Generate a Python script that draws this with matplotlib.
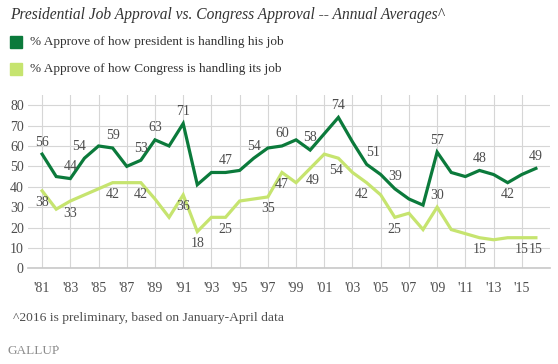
import numpy as np
import matplotlib
matplotlib.use("Agg")
import matplotlib.pyplot as plt
from matplotlib.patches import Rectangle

years = list(range(1981, 2017))
president = [56, 45, 44, 54, 60, 59, 50, 53, 63, 60, 71, 41, 47, 47, 48, 54, 59, 60,
             63, 58, 66, 74, 62, 51, 46, 39, 34, 31, 57, 47, 45, 48, 46, 42, 46, 49]
congress = [38, 29, 33, 36, 39, 42, 42, 42, 34, 25, 36, 18, 25, 25, 33, 34, 35, 47,
            42, 49, 56, 54, 47, 42, 36, 25, 27, 19, 30, 19, 17, 15, 14, 15, 15, 15]

# which points carry a value label: year -> (dx px, above?)
pres_labels = {1981: (0, True), 1983: (0, True), 1984: (-5, True), 1986: (0, True),
               1988: (0, True), 1989: (0, True), 1991: (0, True), 1994: (0, True),
               1996: (0, True), 1998: (0, True), 2000: (0, True), 2002: (0, True),
               2004: (6, True), 2006: (0, True), 2009: (0, True), 2012: (0, True),
               2014: (0, False), 2016: (0, True)}
cong_labels = {1981: (0, False), 1983: (0, False), 1986: (0, False), 1988: (0, False),
               1991: (0, False), 1992: (0, False), 1994: (0, False), 1997: (0, False),
               1998: (0, False), 2000: (3, False), 2002: (-2, False), 2004: (-5, False),
               2006: (0, False), 2009: (0, True), 2012: (0, False), 2015: (0, False),
               2016: (0, False)}

tick_years = list(range(1981, 2016, 2))
tick_labels = ["'%02d" % (y % 100) for y in tick_years]

dark = '#0b7a3b'
light = '#c6e46f'
txt = '#4d4d4d'
serif = ['Liberation Serif', 'DejaVu Serif']

W, H = 558, 364
fig = plt.figure(figsize=(W / 100, H / 100), dpi=100)
ax = fig.add_axes([28 / W, 1 - 268.3 / H, 522 / W, 173.3 / H])

ax.plot(years, president, color=dark, lw=2.3, solid_joinstyle='miter', zorder=3)
ax.plot(years, congress, color=light, lw=2.3, solid_joinstyle='miter', zorder=3)

def put_labels(vals, labs):
    for yr, (dx, above) in labs.items():
        v = vals[years.index(yr)]
        ax.annotate(str(v), (yr, v), xytext=(dx * 0.72, 4 if above else -4),
                    textcoords='offset points', ha='center',
                    va='bottom' if above else 'top', fontsize=10,
                    color=txt, family=serif, zorder=4)

put_labels(president, pres_labels)
put_labels(congress, cong_labels)

ax.set_xlim(1980, 2017)
ax.set_ylim(0, 85)
ax.set_yticks(range(0, 81, 10))
ax.set_xticks(tick_years)
ax.set_xticklabels(tick_labels)
ax.grid(True, color='#d6d6d6', lw=0.8, zorder=0)
ax.set_axisbelow(True)
for s in ['top', 'right', 'left']:
    ax.spines[s].set_visible(False)
ax.spines['bottom'].set_color('#c8c8c8')
ax.spines['bottom'].set_linewidth(1.2)
ax.tick_params(length=0, labelsize=10, labelcolor=txt)
ax.tick_params(axis='x', pad=10)
ax.tick_params(axis='y', pad=3)
for lab in ax.get_xticklabels() + ax.get_yticklabels():
    lab.set_family(serif)

# title and legend
fig.text(10 / W, 1 - 15 / H, 'Presidential Job Approval vs. Congress Approval -- Annual Averages^',
         fontsize=11.2, style='italic', family=serif, color='#333333', va='center')
for yy, col, label in [(42, dark, '% Approve of how president is handling his job'),
                       (69, light, '% Approve of how Congress is handling its job')]:
    fig.patches.append(Rectangle((10 / W, 1 - (yy + 6) / H), 12 / W, 12 / H,
                                 transform=fig.transFigure, color=col))
    fig.text(30 / W, 1 - yy / H, label, fontsize=9.5, family=serif, color='#333333', va='center')

fig.text(13 / W, 1 - 318 / H, '^2016 is preliminary, based on January-April data',
         fontsize=9.7, family=serif, color=txt, va='center')
fig.text(8 / W, 1 - 351 / H, 'GALLUP', fontsize=9.5, family=serif, color='#8c8c8c', va='center')
fig.text(56 / W, 1 - 347 / H, "'", fontsize=5, family=serif, color='#8c8c8c', va='center')

fig.savefig('out.png', dpi=100, facecolor='white')
